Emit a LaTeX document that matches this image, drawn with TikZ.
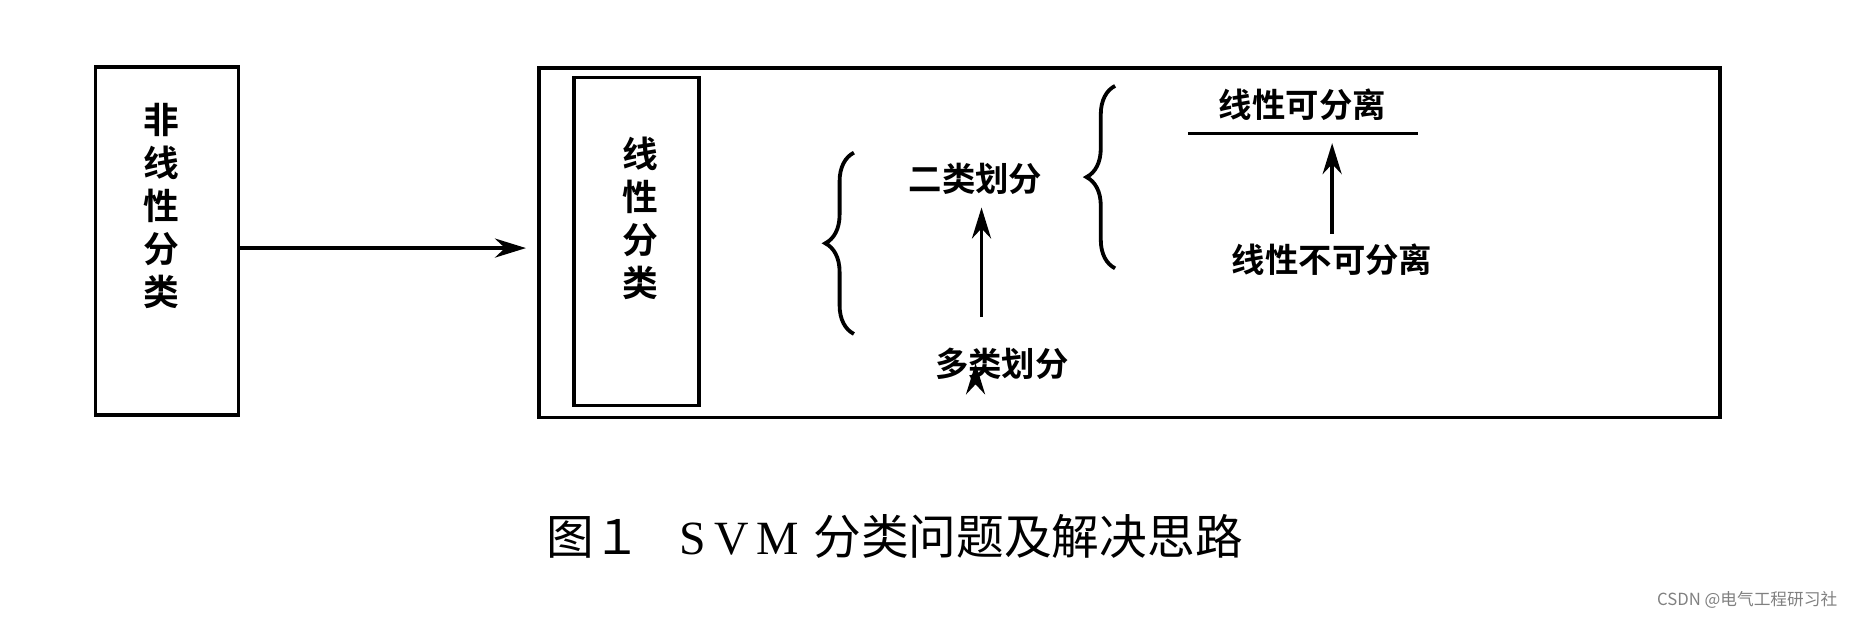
\documentclass[tikz,border=0pt]{standalone}
\usepackage{fontspec}
\newfontfamily\cjk{Noto Sans CJK SC}[BoldFont={* Bold}]
\newfontfamily\cjkserif{Noto Sans CJK SC}
\newfontfamily\latserif{Liberation Serif}
\usetikzlibrary{decorations.pathreplacing,arrows.meta}
\begin{document}
\begin{tikzpicture}[x=0.5pt,y=-0.5pt,
  box/.style={draw,line width=1.6pt},
  lbl/.style={font=\cjk\bfseries\fontsize{14}{16}\selectfont},
  vlbl/.style={font=\cjk\bfseries\fontsize{15}{18}\selectfont,align=center},
  arr/.style={-{Stealth[length=13pt,width=8pt]},line width=1.4pt},
  br/.style={decorate,decoration={brace,amplitude=12pt},line width=1.6pt}]
\useasboundingbox (0,0) rectangle (1568,520);
\draw[box] (80,56) rectangle (200,348);
\node[vlbl] (nl) at (135,173) {非\\线\\性\\分\\类};
\draw[box] (452,57) rectangle (1442,350);
\draw[box] (481,65) rectangle (586,340);
\node[vlbl] (lin) at (537,183) {线\\性\\分\\类};
\coordinate (a1) at (200,208); \coordinate (a2) at (441,208);
\draw[arr] (a1) -- (a2);
\coordinate (b1) at (716,280); \coordinate (b2) at (716,128);
\draw[br] (b1) -- (b2);
\node[lbl] (two) at (818,150) {二类划分};
\node[lbl] (multi) at (840,305) {多类划分};
\draw[arr] ([yshift=-10pt]multi.north -| two.south) ++(0,0) coordinate (m0);
\coordinate (m1) at (823,266); \coordinate (m2) at (823,174);
\draw[arr] (m1) -- (m2);
\coordinate (c1) at (935,225); \coordinate (c2) at (935,72);
\draw[br] (c1) -- (c2);
\node[lbl] (sep) at (1092,88) {线性可分离};
\coordinate (u1) at (996,112); \coordinate (u2) at (1189,112);
\draw[line width=1.6pt] (u1) -- (u2);
\node[lbl] (nsep) at (1117,218) {线性不可分离};
\coordinate (n1) at (1117,196); \coordinate (n2) at (1117,120);
\draw[arr] (n1) -- (n2);
\node[font=\fontsize{20}{24}\selectfont] (cap) at (750,450) {{\cjkserif 图１}\hspace{0.8em}{\latserif S\,V\,M} {\cjkserif 分类问题及解决思路}};
\node[font=\cjk\fontsize{7}{8}\selectfont,text=gray] (wm) at (1465,503) {CSDN @电气工程研习社};
\end{tikzpicture}
\end{document}
